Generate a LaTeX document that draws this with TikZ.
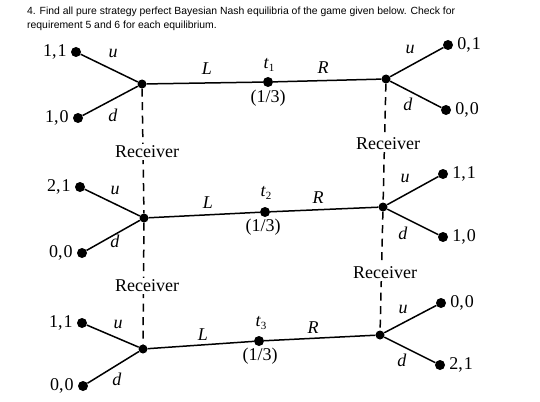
\documentclass[tikz,border=0pt]{standalone}
\usepackage{fontspec}
\setmainfont{Liberation Serif}
\newfontfamily\titlefont{Liberation Sans}
\newcommand{\sub}[2]{\textit{#1}\raisebox{-3.5pt}{\fontsize{11}{11}\selectfont #2}}
\begin{document}
\begin{tikzpicture}[x=1pt,y=-1pt,
  edge/.style={line width=1.5pt},
  info/.style={line width=1.5pt, dash pattern=on 8pt off 5.5pt},
  term/.style={circle,fill=black,inner sep=0pt,minimum size=10pt},
  dec/.style={circle,fill=black,inner sep=0pt,minimum size=9pt},
  lab/.style={font=\fontsize{18}{20}\selectfont, inner sep=1pt},
  rlab/.style={lab, fill=white, inner sep=2pt},
  ttl/.style={anchor=west, inner sep=0pt, font=\titlefont\fontsize{10.4}{12}\selectfont}
]
\useasboundingbox (0,0) rectangle (540,401);
% title
\node[ttl] (ttl1) at (27,12) {4. Find all pure strategy perfect Bayesian Nash equilibria of the game given below. Check for};
\node[ttl] (ttl2) at (27,26) {requirement 5 and 6 for each equilibrium.};
% nodes
\node[dec] (TL) at (142,84) {};
\node[term] (TLu) at (76,52) {};
\node[term] (TLd) at (78,118) {};
\node[term] (t1) at (268,82) {};
\node[dec] (TR) at (386,79) {};
\node[term] (TRu) at (448,45) {};
\node[term] (TRd) at (446,110) {};
\node[dec] (ML) at (144,218) {};
\node[term] (MLu) at (80,187) {};
\node[term] (MLd) at (82,253) {};
\node[term] (t2) at (265,212) {};
\node[dec] (MR) at (383,207) {};
\node[term] (MRu) at (443,174) {};
\node[term] (MRd) at (443,237) {};
\node[dec] (BL) at (143,349) {};
\node[term] (BLu) at (82,323) {};
\node[term] (BLd) at (83,386) {};
\node[term] (t3) at (259,341) {};
\node[dec] (BR) at (380,335) {};
\node[term] (BRu) at (441,303) {};
\node[term] (BRd) at (440,365) {};
% information sets
\draw[info] (TL) -- (ML) -- (BL);
\draw[info] (TR) -- (MR) -- (BR);
% edges
\draw[edge] (TLu) -- (TL) -- (TLd);
\draw[edge] (TL) -- (t1) -- (TR);
\draw[edge] (TRu) -- (TR) -- (TRd);
\draw[edge] (MLu) -- (ML) -- (MLd);
\draw[edge] (ML) -- (t2) -- (MR);
\draw[edge] (MRu) -- (MR) -- (MRd);
\draw[edge] (BLu) -- (BL) -- (BLd);
\draw[edge] (BL) -- (t3) -- (BR);
\draw[edge] (BRu) -- (BR) -- (BRd);
% receiver labels
\node[rlab] (rc1) at (147,152) {Receiver};
\node[rlab] (rc2) at (147,286) {Receiver};
\node[rlab] (rc3) at (388,144) {Receiver};
\node[rlab] (rc4) at (385,273) {Receiver};
% payoffs
\node[lab, anchor=east] (p1) at ([xshift=-3pt]TLu.west) {1,\kern1pt1};
\node[lab, anchor=east] (p2) at ([xshift=-3pt]TLd.west) {1,\kern1pt0};
\node[lab, anchor=east] (p3) at ([xshift=-3pt]MLu.west) {2,\kern1pt1};
\node[lab, anchor=east] (p4) at ([xshift=-3pt]MLd.west) {0,\kern1pt0};
\node[lab, anchor=east] (p5) at ([xshift=-3pt]BLu.west) {1,\kern1pt1};
\node[lab, anchor=east] (p6) at ([xshift=-3pt]BLd.west) {0,\kern1pt0};
\node[lab, anchor=west] (p7) at ([xshift=3pt]TRu.east) {0,\kern1pt1};
\node[lab, anchor=west] (p8) at ([xshift=3pt]TRd.east) {0,\kern1pt0};
\node[lab, anchor=west] (p9) at ([xshift=3pt]MRu.east) {1,\kern1pt1};
\node[lab, anchor=west] (p10) at ([xshift=3pt]MRd.east) {1,\kern1pt0};
\node[lab, anchor=west] (p11) at ([xshift=3pt]BRu.east) {0,\kern1pt0};
\node[lab, anchor=west] (p12) at ([xshift=3pt]BRd.east) {2,\kern1pt1};
% action labels
\node[lab] (u1) at (113,53) {\textit{u}};
\node[lab] (d1) at (113,115) {\textit{d}};
\node[lab] (u2) at (410,49) {\textit{u}};
\node[lab] (d2) at (408,104) {\textit{d}};
\node[lab] (u3) at (115,190) {\textit{u}};
\node[lab] (d3) at (115,241) {\textit{d}};
\node[lab] (u4) at (405,178) {\textit{u}};
\node[lab] (d4) at (403,233) {\textit{d}};
\node[lab] (u5) at (118,324) {\textit{u}};
\node[lab] (d5) at (117,379) {\textit{d}};
\node[lab] (u6) at (403,309) {\textit{u}};
\node[lab] (d6) at (402,360) {\textit{d}};
\node[lab] (L1) at (207,69) {\textit{L}};
\node[lab] (L2) at (208,203) {\textit{L}};
\node[lab] (L3) at (203,335) {\textit{L}};
\node[lab] (R1) at (323,68) {\textit{R}};
\node[lab] (R2) at (318,198) {\textit{R}};
\node[lab] (R3) at (313,328) {\textit{R}};
% types
\node[lab] (tl1) at (269,65) {\sub{t}{1}};
\node[lab] (tl2) at (266,193) {\sub{t}{2}};
\node[lab] (tl3) at (261,323) {\sub{t}{3}};
\node[lab] (pr1) at (268,98) {(1/3)};
\node[lab] (pr2) at (263,227) {(1/3)};
\node[lab] (pr3) at (260,356) {(1/3)};
\end{tikzpicture}
\end{document}
